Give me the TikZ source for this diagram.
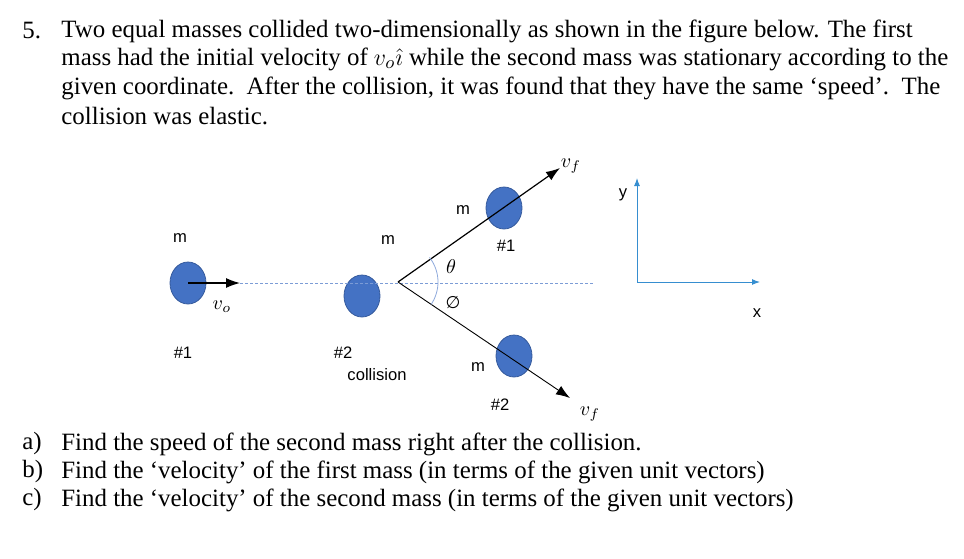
\documentclass[tikz,border=0pt]{standalone}
\usepackage{fontspec}
\setmainfont{Liberation Serif}
\newfontfamily\diag{Liberation Sans}
\newfontfamily\dejavu{DejaVu Sans}
\usetikzlibrary{arrows.meta}
\begin{document}
\begin{tikzpicture}[x=0.5pt,y=-0.5pt,
  txt/.style={anchor=west,inner sep=0,font=\fontsize{12.45}{14}\selectfont},
  lbl/.style={inner sep=0,font=\diag\fontsize{8.3}{10}\selectfont},
  ax/.style={draw=ballc!80!cyan,line width=0.5pt,-{Latex[length=4pt,width=3pt]}},
  vel/.style={draw=black,line width=0.6pt,-{Latex[length=7pt,width=5pt]}}]
\definecolor{ballc}{HTML}{4472C4}
\useasboundingbox (0,0) rectangle (964,558);
% text
\node[txt] (n5) at (22,31) {5.};
\node[txt] (l1) at (61,31) {Two equal masses collided two-dimensionally as shown in the figure below. The first};
\node[txt] (l2) at (61,59) {mass had the initial velocity of $v_o\hat{\imath}$ while the second mass was stationary according to the};
\node[txt] (l3) at (61,88) {given coordinate.\ \ After the collision, it was found that they have the same `speed'.\ \ The};
\node[txt] (l4) at (61,116) {collision was elastic.};
\node[txt] (la) at (22,444) {a)};
\node[txt] (lb) at (22,472) {b)};
\node[txt] (lc) at (22,500) {c)};
\node[txt] (qa) at (61,444) {Find the speed of the second mass right after the collision.};
\node[txt] (qb) at (61,472) {Find the `velocity' of the first mass (in terms of the given unit vectors)};
\node[txt] (qc) at (61,500) {Find the `velocity' of the second mass (in terms of the given unit vectors)};
% balls
\draw[fill=ballc,draw=ballc!80!black] (188,283) ellipse (18 and 21);
\draw[fill=ballc,draw=ballc!80!black] (362,296) ellipse (18 and 21);
\draw[fill=ballc,draw=ballc!80!black] (504,208) ellipse (18 and 21);
\draw[fill=ballc,draw=ballc!80!black] (514,356) ellipse (18 and 21);
\coordinate (b1) at (188,283);
\coordinate (vo) at (240,283);
\coordinate (c) at (398,282);
\coordinate (d1) at (240,283);
\coordinate (d2) at (595,283);
\coordinate (t1) at (560,168);
\coordinate (t2) at (570,398);
\draw[draw=ballc!70,dash pattern=on 1.5pt off 1pt,line width=0.4pt] (d1) -- (d2);
\draw[vel] (b1) -- (vo);
\draw[vel] (c) -- (t1);
\draw[vel,line width=0.45pt] (c) -- (t2);
\draw[draw=ballc!60,line width=0.4pt] (c) ++(0:40) arc[start angle=0,end angle=34,radius=40];
\draw[draw=ballc!60,line width=0.4pt] (c) ++(0:40) arc[start angle=0,end angle=-38,radius=40];
% axes
\coordinate (o) at (637,282);
\coordinate (oy) at (637,178);
\coordinate (ox) at (760,282);
\draw[ax] (o) -- (oy);
\draw[ax] (o) -- (ox);
% labels
\node[lbl] (m1) at (180,238) {m};
\node[lbl] (m2) at (388,240) {m};
\node[lbl] (m3) at (463,210) {m};
\node[lbl] (m4) at (478,367) {m};
\node[lbl] (h1) at (183,353) {\#1};
\node[lbl] (h2) at (343,353) {\#2};
\node[lbl] (h3) at (506,246) {\#1};
\node[lbl] (h4) at (500,405) {\#2};
\node[lbl] (col) at (377,375) {collision};
\node[lbl] (yl) at (623,195) {y};
\node[lbl] (xl) at (757,313) {x};
\node[inner sep=0] (vol) at (222,307) {$v_o$};
\node[inner sep=0] (vf1) at (571,166) {$v_f$};
\node[inner sep=0] (vf2) at (590,414) {$v_f$};
\node[inner sep=0] (th) at (451,267) {$\theta$};
\node[inner sep=0,font=\dejavu\fontsize{8.5}{10}\selectfont] (ph) at (453,303) {∅};
\end{tikzpicture}
\end{document}
